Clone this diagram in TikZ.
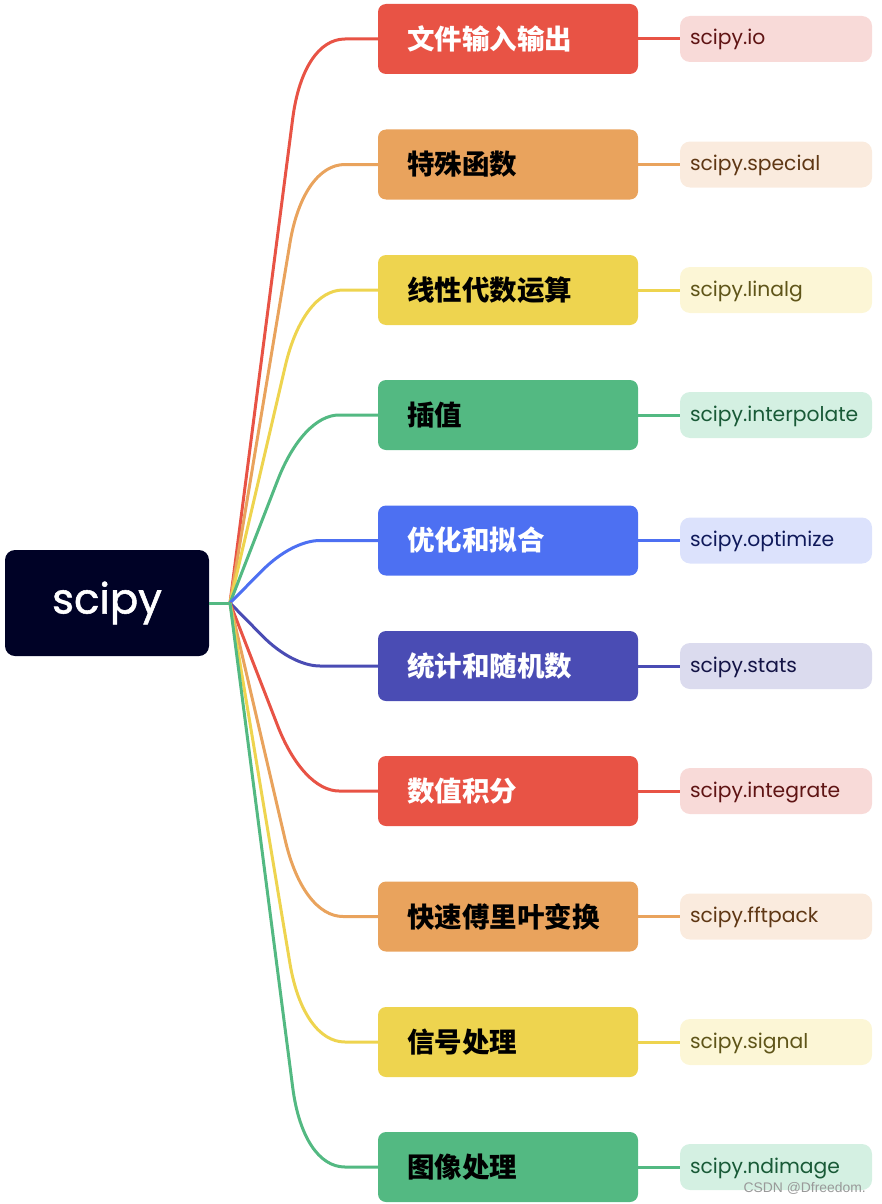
\documentclass[tikz,border=0pt]{standalone}
\usepackage{fontspec}
\usetikzlibrary{calc}
\setmainfont{Poppins}
\newfontfamily\cjk{Noto Sans CJK SC}
\newfontfamily\rootfont[FakeBold=1.3]{Poppins}
\newfontfamily\wmfont{Liberation Sans}
\definecolor{rootc}{RGB}{0,2,38}
\definecolor{cred}{RGB}{232,83,69}
\definecolor{lred}{RGB}{248,218,216}
\definecolor{tred}{RGB}{95,20,20}
\definecolor{corange}{RGB}{233,163,93}
\definecolor{lorange}{RGB}{250,235,222}
\definecolor{torange}{RGB}{95,55,20}
\definecolor{cyellow}{RGB}{238,212,79}
\definecolor{lyellow}{RGB}{252,246,214}
\definecolor{tyellow}{RGB}{95,85,25}
\definecolor{cgreen}{RGB}{83,185,130}
\definecolor{lgreen}{RGB}{212,240,226}
\definecolor{tgreen}{RGB}{25,90,55}
\definecolor{cblue}{RGB}{77,112,242}
\definecolor{lblue}{RGB}{220,226,252}
\definecolor{tblue}{RGB}{15,25,90}
\definecolor{cindigo}{RGB}{74,76,180}
\definecolor{lindigo}{RGB}{219,219,238}
\definecolor{tindigo}{RGB}{20,20,70}
\tikzset{
  rootbox/.style={fill=rootc, rounded corners=10pt, minimum width=204pt, minimum height=106pt, text=white, font=\rootfont\fontsize{42}{50}\selectfont, inner sep=0pt},
  branchbox/.style={fill=#1, rounded corners=8pt, minimum height=70pt, text width=202pt, inner xsep=29pt, inner ysep=0pt, align=left, font=\cjk\bfseries\fontsize{27.5}{32}\selectfont},
  leafbox/.style={fill=#1, rounded corners=10pt, minimum height=46pt, text width=172pt, inner xsep=10pt, inner ysep=0pt, align=left, text height=15pt, text depth=3pt, font=\fontsize{20.3}{24}\selectfont},
  conn/.style={draw=#1, line width=3pt, line join=round},
}
\begin{document}
\begin{tikzpicture}[x=1pt,y=-1pt]
\useasboundingbox (0,0) rectangle (882,1204);
\node[rootbox] (root) at (107,603) {scipy};
\coordinate (hub) at (230,603);
\coordinate (vx) at (303,0);
\coordinate (vn) at (292,0);

\node[branchbox=cred, text=white] (b1) at (508,39) {文件输入输出};
\node[branchbox=corange, text=black] (b2) at (508,164.5) {特殊函数};
\node[branchbox=cyellow, text=black] (b3) at (508,290) {线性代数运算};
\node[branchbox=cgreen, text=black] (b4) at (508,415) {插值};
\node[branchbox=cblue, text=white] (b5) at (508,540.5) {优化和拟合};
\node[branchbox=cindigo, text=white] (b6) at (508,666) {统计和随机数};
\node[branchbox=cred, text=white] (b7) at (508,791) {数值积分};
\node[branchbox=corange, text=black] (b8) at (508,916.5) {快速傅里叶变换};
\node[branchbox=cyellow, text=black] (b9) at (508,1042) {信号处理};
\node[branchbox=cgreen, text=black] (b10) at (508,1167) {图像处理};

\node[leafbox=lred, text=tred] (l1) at (776,39) {scipy.io};
\node[leafbox=lorange, text=torange] (l2) at (776,164.5) {scipy.special};
\node[leafbox=lyellow, text=tyellow] (l3) at (776,290) {scipy.linalg};
\node[leafbox=lgreen, text=tgreen] (l4) at (776,415) {scipy.interpolate};
\node[leafbox=lblue, text=tblue] (l5) at (776,540.5) {scipy.optimize};
\node[leafbox=lindigo, text=tindigo] (l6) at (776,666) {scipy.stats};
\node[leafbox=lred, text=tred] (l7) at (776,791) {scipy.integrate};
\node[leafbox=lorange, text=torange] (l8) at (776,916.5) {scipy.fftpack};
\node[leafbox=lyellow, text=tyellow] (l9) at (776,1042) {scipy.signal};
\node[leafbox=lgreen, text=tgreen] (l10) at (776,1167) {scipy.ndimage};

\foreach \i/\c/\v/\da/\db in {1/cred/vx/80/42,2/corange/vx/80/42,3/cyellow/vx/78/40,4/cgreen/vx/70/36,5/cblue/vn/42/28,6/cindigo/vn/42/28,7/cred/vx/70/36,8/corange/vx/78/40,9/cyellow/vx/80/42,10/cgreen/vx/80/42}{
  \coordinate (V\i) at (b\i.west -| \v);
  \coordinate (S\i) at ($(V\i)!\da pt!(hub)$);
  \coordinate (E\i) at ($(V\i)+(\db,0)$);
  \draw[conn=\c] (hub) -- (S\i) .. controls ($(S\i)!0.62!(V\i)$) and ($(E\i)!0.62!(V\i)$) .. (E\i) -- (b\i.west);
  \draw[conn=\c] (b\i.east) -- (l\i.west);
}
\draw[conn=cgreen] (root.east) -- (hub);

\node[text=black!40, font=\wmfont\fontsize{13.9}{16}\selectfont, anchor=east, inner sep=0pt] (wm) at (866,1188) {CSDN @Dfreedom.};
\end{tikzpicture}
\end{document}
